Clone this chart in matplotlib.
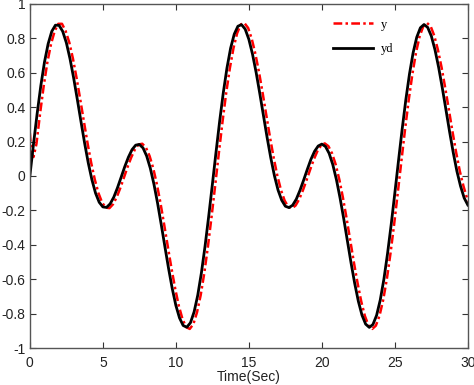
import matplotlib as mpl
mpl.use('Agg')
import matplotlib.pyplot as plt
import numpy as np

# time grid (s) for yd
t = np.arange(0, 30.01, 0.25)

# yd, one value per 0.25 s
yd = [0.000, 0.186, 0.363, 0.524, 0.661, 0.767, 0.840, 0.876, 0.875, 0.840,
      0.774, 0.681, 0.569, 0.445, 0.317, 0.191, 0.076, -0.022, -0.100, -0.153,
      -0.180, -0.183, -0.162, -0.123, -0.069, -0.008, 0.054, 0.109, 0.153, 0.179,
      0.183, 0.163, 0.116, 0.045, -0.048, -0.159, -0.283, -0.411, -0.537, -0.653,
      -0.752, -0.825, -0.869, -0.879, -0.853, -0.790, -0.693, -0.563, -0.408, -0.234,
      -0.050, 0.137, 0.318, 0.484, 0.627, 0.742, 0.824, 0.870, 0.879, 0.853,
      0.794, 0.708, 0.601, 0.479, 0.351, 0.224, 0.106, 0.002, -0.082, -0.141,
      -0.176, -0.184, -0.170, -0.135, -0.084, -0.025, 0.037, 0.096, 0.143, 0.174,
      0.185, 0.171, 0.131, 0.066, -0.022, -0.129, -0.249, -0.377, -0.505, -0.624,
      -0.728, -0.809, -0.861, -0.880, -0.863, -0.810, -0.721, -0.600, -0.451, -0.282,
      -0.099, 0.088, 0.271, 0.441, 0.591, 0.715, 0.806, 0.861, 0.880, 0.863,
      0.813, 0.733, 0.631, 0.512, 0.385, 0.257, 0.136, 0.028, -0.059, -0.128,
      -0.169]

# y (red) lags yd by about 0.2 s, with a short start-up transient
y_t = np.concatenate(([0.0, 0.1, 0.25], np.arange(0.45, 30.3, 0.25)))
y = [0.250, 0.140, 0.110,
     0.186, 0.363, 0.524, 0.661, 0.767, 0.842, 0.884, 0.884, 0.842,
     0.776, 0.682, 0.569, 0.445, 0.317, 0.191, 0.076, -0.022, -0.100, -0.155,
     -0.184, -0.187, -0.164, -0.123, -0.069, -0.008, 0.054, 0.109, 0.155, 0.183,
     0.187, 0.165, 0.116, 0.045, -0.048, -0.159, -0.283, -0.411, -0.537, -0.653,
     -0.754, -0.830, -0.878, -0.889, -0.861, -0.792, -0.693, -0.563, -0.408, -0.234,
     -0.050, 0.137, 0.318, 0.484, 0.627, 0.744, 0.830, 0.881, 0.888, 0.860,
     0.796, 0.708, 0.601, 0.479, 0.351, 0.224, 0.106, 0.002, -0.082, -0.143,
     -0.180, -0.188, -0.172, -0.135, -0.084, -0.025, 0.037, 0.096, 0.145, 0.178,
     0.189, 0.173, 0.131, 0.066, -0.022, -0.129, -0.249, -0.377, -0.505, -0.624,
     -0.730, -0.814, -0.870, -0.889, -0.870, -0.812, -0.721, -0.600, -0.451, -0.282,
     -0.099, 0.088, 0.271, 0.441, 0.591, 0.717, 0.812, 0.870, 0.889, 0.870,
     0.815, 0.733, 0.631, 0.512, 0.385, 0.257, 0.136, 0.028, -0.059, -0.130,
     -0.171]

xticks = [0, 5, 10, 15, 20, 25, 30]
yticks = [-1, -0.8, -0.6, -0.4, -0.2, 0, 0.2, 0.4, 0.6, 0.8, 1]
ytick_labels = ['-1', '-0.8', '-0.6', '-0.4', '-0.2', '0',
                '0.2', '0.4', '0.6', '0.8', '1']

dpi = 100
fig = plt.figure(dpi=dpi, figsize=(474 / dpi, 385 / dpi))
mpl.rcParams.update({'font.size': 10, 'font.family': 'Liberation Sans'})
ax = fig.add_axes([0.063, 0.096, 0.924, 0.894])

ax.plot(y_t, y, color='red', linewidth=1.8, linestyle=(0, (3.5, 1.3, 1, 1.3)), label='y')
ax.plot(t, yd, color='black', linewidth=2.0, label='yd')

ax.set_xlim(0, 30)
ax.set_ylim(-1, 1)
ax.set_xticks(xticks)
ax.set_yticks(yticks)
ax.set_yticklabels(ytick_labels)
ax.tick_params(direction='in', top=True, right=True, length=4, width=0.8,
               colors='#333333', labelcolor='#222222')
ax.tick_params(axis='x', pad=6)
ax.tick_params(axis='y', pad=3)
for sp in ax.spines.values():
    sp.set_color('#555555')
    sp.set_linewidth(1.0)

ax.set_xlabel('Time(Sec)', labelpad=0, color='#222222')

ax.legend(loc='upper right', bbox_to_anchor=(0.855, 0.99), frameon=False,
          prop={'family': 'Liberation Serif', 'size': 9}, handlelength=3.2,
          labelspacing=1.0, handletextpad=0.6)

fig.savefig('out.png')
